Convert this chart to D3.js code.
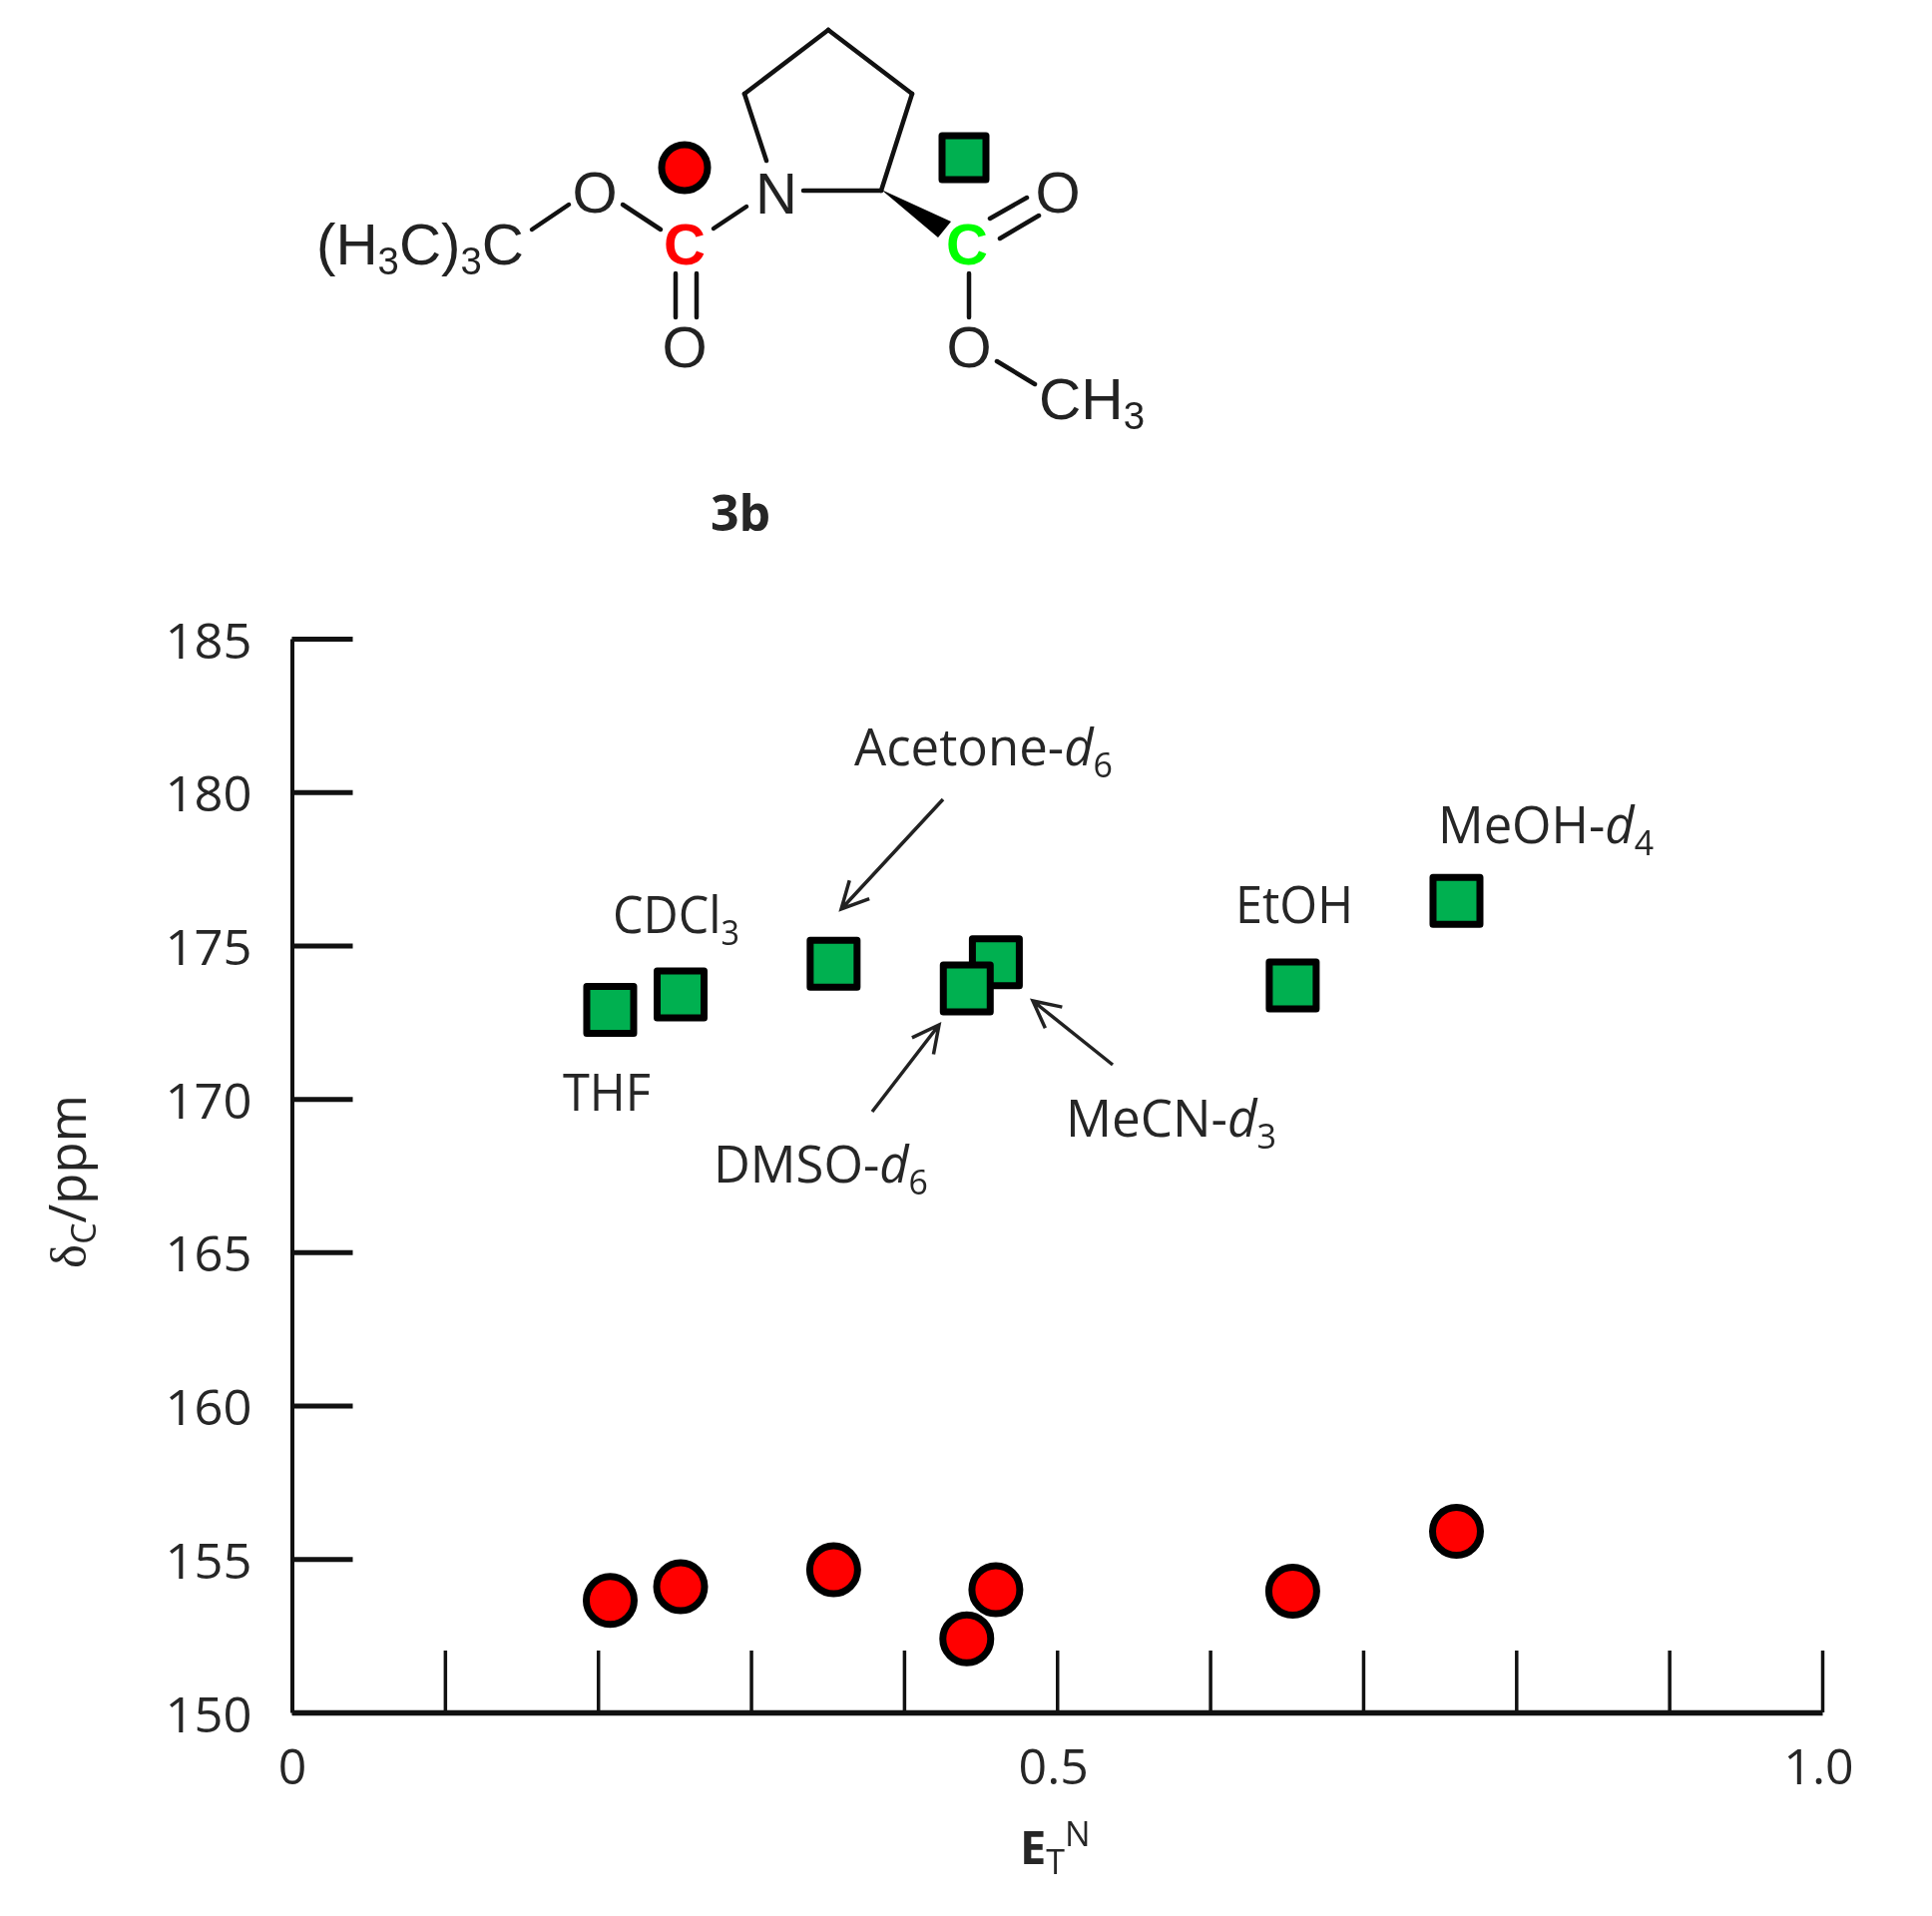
<!DOCTYPE html>
<html><head><meta charset="utf-8">
<script src="https://cdn.jsdelivr.net/npm/d3@7"></script>
<style>html,body{margin:0;background:#fff}svg{display:block;filter:blur(0.6px)}text{font-family:"Open Sans",sans-serif;fill:#262626}</style>
</head><body><svg id="c" width="1936" height="1920"></svg>
<script>
const solvents = ["THF","CDCl3","Acetone-d6","MeCN-d3","DMSO-d6","EtOH","MeOH-d4"];
const etn      = [0.208,0.254,0.354,0.460,0.441,0.654,0.761];
const deltaEster = [172.9,173.4,174.4,174.45,173.6,173.7,176.45];
const deltaBoc   = [153.65,154.1,154.65,154.0,152.4,153.95,155.9];
const yTicks = [150,155,160,165,170,175,180,185];
const xTicks = [0,.1,.2,.3,.4,.5,.6,.7,.8,.9,1];
const xTickLabels = {0:"0",0.5:"0.5",1:"1.0"};

const svg = d3.select("#c");
const x = d3.scaleLinear().domain([0,1]).range([292.5,1826]);
const y = d3.scaleLinear().domain([150,185]).range([1716,640]);

// axes
const gy = svg.append("g").attr("transform","translate(292.5,0)")
  .call(d3.axisLeft(y).tickValues(yTicks).tickSizeInner(-61).tickSizeOuter(0).tickPadding(40).tickFormat(d3.format("d")));
const gx = svg.append("g").attr("transform","translate(0,1716)")
  .call(d3.axisBottom(x).tickValues(xTicks).tickSizeInner(-62).tickSizeOuter(0).tickPadding(36)
    .tickFormat(d=>xTickLabels[d]??""));
gy.select(".domain").attr("stroke","#111").attr("stroke-width",4);
gx.select(".domain").attr("stroke","#111").attr("stroke-width",5.5);
gy.selectAll("line").attr("stroke","#111").attr("stroke-width",5);
gx.selectAll("line").attr("stroke","#111").attr("stroke-width",3.5);
gy.selectAll("text").attr("font-size",50).attr("font-family",null).attr("dy","0.38em").attr("textLength",87).attr("lengthAdjust","spacingAndGlyphs");
gx.selectAll("text").attr("font-size",50).attr("font-family",null).attr("dy","0.72em").attr("dx",d=>d==0?0:-4);

// marks
const sq = d3.symbol().type(d3.symbolSquare).size(47*47)();
const ci = d3.symbol().type(d3.symbolCircle).size(Math.PI*24*24)();
svg.append("g").selectAll("path").data(deltaBoc).join("path")
  .attr("d",ci).attr("transform",(d,i)=>`translate(${x(etn[i])},${y(d)})`)
  .attr("fill","#ff0000").attr("stroke","#000").attr("stroke-width",7);
svg.append("g").selectAll("path").data(deltaEster).join("path")
  .attr("d",sq).attr("transform",(d,i)=>`translate(${x(etn[i])},${y(d)})`)
  .attr("fill","#00b050").attr("stroke","#000").attr("stroke-width",7).attr("stroke-linejoin","round");

function label(parts,xp,yp,fs,extra){
  const t = svg.append("text").attr("x",xp).attr("y",yp).attr("font-size",fs);
  parts.forEach(p=>{
    const s=t.append("tspan").text(p.t);
    if(p.i) s.attr("font-style","italic");
    if(p.b) s.attr("font-weight",700);
    if(p.fs) s.attr("font-size",p.fs);
    if(p.dy) s.attr("dy",p.dy);
  });
  if(extra) extra(t);
  return t;
}
const fit = w => t => t.attr("textLength",w).attr("lengthAdjust","spacingAndGlyphs");
const sub = (t)=>({t,fs:34,dy:12});
label([{t:"Acetone-"},{t:"d",i:1},sub("6")],856,767,51,fit(259));
label([{t:"MeOH-"},{t:"d",i:1},sub("4")],1441,845,51,fit(216));
label([{t:"EtOH"}],1238,925,51,fit(118));
label([{t:"CDCl"},sub("3")],614,935,51,fit(127));
label([{t:"THF"}],564,1113,51,fit(88));
label([{t:"DMSO-"},{t:"d",i:1},sub("6")],715,1185,51,fit(215));
label([{t:"MeCN-"},{t:"d",i:1},sub("3")],1068,1139,51,fit(211));

function arrow(x1,y1,x2,y2){
  const a=Math.atan2(y2-y1,x2-x1), L=30, w=0.47;
  const path=d3.path();
  path.moveTo(x1,y1);path.lineTo(x2,y2);
  path.moveTo(x2-L*Math.cos(a-w),y2-L*Math.sin(a-w));path.lineTo(x2,y2);
  path.lineTo(x2-L*Math.cos(a+w),y2-L*Math.sin(a+w));
  svg.append("path").attr("d",path.toString()).attr("fill","none").attr("stroke","#222").attr("stroke-width",3.5);
}
arrow(945,801,843,911);
arrow(874,1114,941,1027);
arrow(1115,1067,1035,1003);

// axis titles
label([{t:"E",b:1},{t:"T",fs:34,dy:10},{t:"N",fs:34,dy:-28}],1022,1868,47);
svg.append("text").attr("transform","translate(86,1184) rotate(-90)").attr("text-anchor","middle").attr("font-size",51)
  .html('<tspan style="font-family:\'Liberation Serif\'">δ</tspan><tspan font-size="34" dy="10">C</tspan><tspan dy="-10">/ppm</tspan>');

// structure 3b
const bonds = [
 [[768,161],[746,94]],[[746,94],[830,30]],[[830,30],[914,94]],[[914,94],[883,191]],
 [[805,191],[883,191]],
 [[715,229],[748,207]],[[677,274],[677,318]],[[698,274],[698,318]],
 [[624,205],[662,230]],[[533,230],[570,205]],
 [[992,219],[1029,198]],[[1002,239],[1041,216]],
 [[971,274],[971,318]],[[999,362],[1037,385]]
];
svg.append("g").selectAll("line").data(bonds).join("line")
  .attr("x1",d=>d[0][0]).attr("y1",d=>d[0][1]).attr("x2",d=>d[1][0]).attr("y2",d=>d[1][1])
  .attr("stroke","#111").attr("stroke-width",4.5).attr("stroke-linecap","round");
svg.append("path").attr("d","M883,190L953,222L940,238Z").attr("fill","#000");
const chem = (s,xp,yp,col)=>svg.append("text").attr("x",xp).attr("y",yp).attr("text-anchor","middle")
  .attr("font-size",58).style("font-family","'Liberation Sans'").style("fill",col||"#222").text(s);
chem("O",596,213);chem("N",778,214);chem("O",1060,213);chem("O",686,368);chem("O",971,368);
chem("C",686,265,"#ff0000").attr("font-weight",700);
chem("C",969,265,"#00ff00").attr("font-weight",700);
const formula=(parts,xp,yp,w)=>{
  const t=svg.append("text").attr("x",xp).attr("y",yp).attr("font-size",58).style("font-family","'Liberation Sans'").style("fill","#222");
  let prevSub=false;
  parts.forEach(p=>{
    const s=t.append("tspan").text(p[0]);
    if(p[1]){s.attr("font-size",38).attr("dy",10);prevSub=true;}
    else if(prevSub){s.attr("dy",-10);prevSub=false;}
  });
  t.attr("textLength",w).attr("lengthAdjust","spacingAndGlyphs");
};
formula([["(H"],["3",1],["C)"],["3",1],["C"]],317,265,208);
formula([["CH"],["3",1]],1041,420,106);
svg.append("path").attr("d",d3.symbol().type(d3.symbolCircle).size(Math.PI*23*23)()).attr("transform","translate(686,168)")
  .attr("fill","#ff0000").attr("stroke","#000").attr("stroke-width",7);
svg.append("path").attr("d",d3.symbol().type(d3.symbolSquare).size(44*44)()).attr("transform","translate(966,158)")
  .attr("fill","#00b050").attr("stroke","#000").attr("stroke-width",7).attr("stroke-linejoin","round");
svg.append("text").attr("x",742).attr("y",532).attr("text-anchor","middle").attr("font-size",50).attr("font-weight",700).text("3b");
</script></body></html>
